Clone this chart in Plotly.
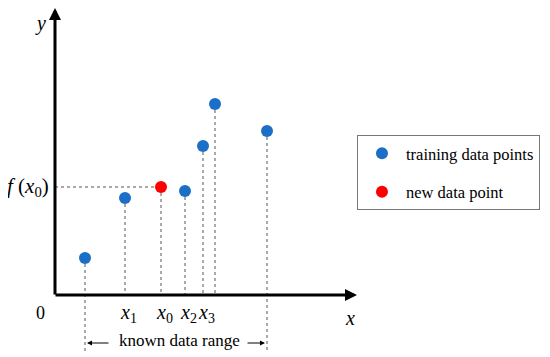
import plotly.graph_objects as go

# Data (abstract units; origin of the sketch axes at 0,0)
train_x = [3.0, 7.0, 13.0, 14.8, 16.0, 21.2]
train_y = [3.7, 9.7, 10.4, 14.9, 19.1, 16.4]
new_x = [10.6]
new_y = [10.8]
tick_names = ["<i>x</i><sub>1</sub>", "<i>x</i><sub>0</sub>", "<i>x</i><sub>2</sub>", "<i>x</i><sub>3</sub>"]
tick_pos = [7.0, 10.6, 13.0, 14.8]
legend_names = ["training data points", "new data point"]

BLUE = "#1c6fc7"
RED = "#ff0000"
GRAY = "#555555"
SERIF = "Liberation Serif"

fig = go.Figure()

# dotted drop lines
lo = min(train_x)
hi = max(train_x)
for xv, yv in zip(train_x + new_x, train_y + new_y):
    bottom = -5.7 if xv in (lo, hi) else 0
    fig.add_trace(go.Scatter(x=[xv, xv], y=[yv, bottom], mode="lines",
                             line=dict(color=GRAY, width=1, dash="dot"),
                             showlegend=False, hoverinfo="skip"))
# horizontal dotted line to f(x0)
fig.add_trace(go.Scatter(x=[0, new_x[0]], y=[new_y[0], new_y[0]], mode="lines",
                         line=dict(color=GRAY, width=1, dash="dot"),
                         showlegend=False, hoverinfo="skip"))

fig.add_trace(go.Scatter(x=train_x, y=train_y, mode="markers", name=legend_names[0],
                         marker=dict(color=BLUE, size=12), legendgroup="a"))
fig.add_trace(go.Scatter(x=new_x, y=new_y, mode="markers", name=legend_names[1],
                         marker=dict(color=RED, size=12), legendgroup="b"))

ann = []
# axes arrows
ann.append(dict(x=0, y=28.7, ax=0, ay=-0.1, xref="x", yref="y", axref="x", ayref="y",
                text="", showarrow=True, arrowhead=2, arrowsize=0.8, arrowwidth=3,
                arrowcolor="black", standoff=0, startstandoff=0))
ann.append(dict(x=30.2, y=0, ax=-0.1, ay=0, xref="x", yref="y", axref="x", ayref="y",
                text="", showarrow=True, arrowhead=2, arrowsize=0.8, arrowwidth=3,
                arrowcolor="black", standoff=0, startstandoff=0))
# known data range arrows
ann.append(dict(x=lo + 0.2, y=-4.8, ax=lo + 2.5, ay=-4.8, xref="x", yref="y", axref="x", ayref="y",
                text="", showarrow=True, arrowhead=2, arrowsize=1, arrowwidth=1,
                arrowcolor="black", standoff=0))
ann.append(dict(x=hi - 0.2, y=-4.8, ax=hi - 2.1, ay=-4.8, xref="x", yref="y", axref="x", ayref="y",
                text="", showarrow=True, arrowhead=2, arrowsize=1, arrowwidth=1,
                arrowcolor="black", standoff=0))
ann.append(dict(x=(lo + hi) / 2 + 0.3, y=-4.5, text="known data range", showarrow=False,
                font=dict(family=SERIF, size=17, color="black")))

for nm, xp in zip(tick_names, tick_pos):
    ann.append(dict(x=xp + 0.3, y=-1.8, text=nm, showarrow=False,
                    font=dict(family=SERIF, size=20, color="black")))
ann.append(dict(x=-1.5, y=-1.8, text="0", showarrow=False,
                font=dict(family=SERIF, size=18, color="black")))
ann.append(dict(x=29.5, y=-2.3, text="<i>x</i>", showarrow=False,
                font=dict(family=SERIF, size=20, color="black")))
ann.append(dict(x=-1.5, y=27.2, text="<i>y</i>", showarrow=False,
                font=dict(family=SERIF, size=20, color="black")))
ann.append(dict(x=-0.4, y=new_y[0], text="<i>f</i> (<i>x</i><sub>0</sub>)", showarrow=False,
                xanchor="right", font=dict(family=SERIF, size=21, color="black")))

fig.update_layout(
    width=550, height=357,
    margin=dict(l=0, r=0, t=0, b=0),
    paper_bgcolor="white", plot_bgcolor="white",
    xaxis=dict(range=[-4.7, 50.3], visible=False, fixedrange=True),
    yaxis=dict(range=[-7.0, 28.7], visible=False, fixedrange=True),
    annotations=ann,
    showlegend=True,
    legend=dict(x=0.6345, y=0.644, xanchor="left", yanchor="top",
                bordercolor="#777777", borderwidth=1, bgcolor="white",
                font=dict(family=SERIF, size=16.5, color="black"),
                tracegroupgap=14, itemwidth=38),
)

fig.write_html("out.html")
